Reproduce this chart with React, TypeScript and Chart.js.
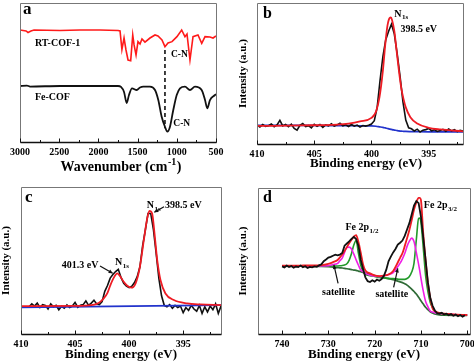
import React, { useEffect, useRef } from 'react';
import { Chart, registerables } from 'chart.js';

Chart.register(...registerables);

const SERIF = "'Liberation Serif', 'Times New Roman', Times, serif";

// ---------------- Panel a : FTIR ----------------
const aTickLabels = [3000, 2500, 2000, 1500, 1000, 500];
const aMinorTicks = [2750, 2250, 1750, 1250, 750];
const aRtCofWavenumber = [3000, 2923, 2898, 2860, 2821, 2490, 2235, 1980, 1750, 1724, 1700, 1673, 1648, 1622, 1588, 1562, 1545, 1520, 1495, 1469, 1444, 1406, 1342, 1278, 1240, 1189, 1151, 1112, 1061, 998, 938, 896, 870, 832, 793, 730, 682, 640, 577, 538, 500];
const aRtCofTransmittance = [80.6, 79.9, 78.8, 79.9, 80.6, 80.2, 80.6, 80.6, 80.2, 79.9, 66.5, 74.8, 66.2, 59.0, 58.5, 77.0, 69.8, 62.6, 72.2, 70.5, 74.1, 71.9, 74.8, 77.0, 76.3, 73.4, 68.6, 71.2, 72.2, 75.8, 80.6, 75.8, 77.7, 59.0, 75.8, 77.0, 71.0, 75.8, 75.5, 74.8, 76.3];
const aFeCofWavenumber = [3000, 2911, 2872, 2490, 1980, 1750, 1712, 1673, 1639, 1610, 1571, 1511, 1469, 1427, 1342, 1278, 1236, 1193, 1151, 1121, 1087, 1045, 1001, 959, 896, 832, 768, 683, 640, 611, 577, 513, 500];
const aFeCofTransmittance = [40.3, 40.6, 39.9, 40.3, 40.3, 40.3, 39.6, 36.0, 28.0, 33.8, 38.6, 37.4, 39.2, 39.8, 39.8, 37.4, 30.2, 18.2, 11.0, 7.4, 11.0, 23.0, 33.8, 38.6, 39.8, 37.4, 39.8, 37.4, 30.2, 24.2, 30.2, 33.8, 34.5];

// ---------------- Panel b : N1s (RT-COF-1) ----------------
const bTickLabels = [410, 405, 400, 395];
const bMinorTicks = [407.5, 402.5, 397.5, 392.5];
const bRawEnergy = [410, 409.75, 409.5, 409.25, 409, 408.75, 408.5, 408.25, 408, 407.75, 407.5, 407.25, 407, 406.75, 406.5, 406.25, 406, 405.75, 405.5, 405.25, 405, 404.75, 404.5, 404.25, 404, 403.75, 403.5, 403.25, 403, 402.75, 402.5, 402.25, 402, 401.75, 401.5, 401.25, 401, 400.75, 400.5, 400.25, 400, 399.75, 399.5, 399.25, 399, 398.75, 398.5, 398.25, 398, 397.75, 397.5, 397.25, 397, 396.75, 396.5, 396.25, 396, 395.75, 395.5, 395.25, 395, 394.75, 394.5, 394.25, 394, 393.75, 393.5, 393.25, 393, 392.75, 392.5, 392.25, 392];
const bRawIntensity = [13.5, 12.0, 13.8, 12.5, 13.0, 14.2, 12.3, 13.5, 16.8, 12.8, 13.9, 12.2, 14.0, 11.0, 9.8, 13.2, 14.5, 12.4, 13.0, 11.5, 14.0, 12.6, 13.8, 11.8, 13.5, 12.9, 14.3, 12.7, 13.6, 14.8, 12.9, 13.6, 12.4, 13.8, 12.6, 13.4, 12.0, 13.1, 12.7, 13.3, 14.2, 16.5, 26.0, 45.0, 62.0, 74.0, 80.0, 85.0, 78.0, 64.0, 48.0, 30.0, 17.0, 11.5, 10.8, 9.2, 10.5, 8.5, 9.8, 10.2, 11.0, 9.4, 10.1, 8.9, 9.6, 10.4, 9.1, 10.6, 9.3, 10.2, 8.8, 9.7, 9.2];
const bFitEnergy = [410, 406, 403, 402, 401, 400, 399.6, 399.3, 399.0, 398.8, 398.6, 398.4, 398.3, 398.2, 398.0, 397.8, 397.6, 397.4, 397.2, 397.0, 396.6, 396.0, 395.0, 394.0, 392.0];
const bFitIntensity = [12.8, 13.2, 13.8, 14.5, 16.0, 18.5, 23.0, 33.0, 52.0, 70.0, 84.0, 89.5, 89.8, 88.0, 80.0, 66.0, 52.0, 40.0, 32.0, 26.0, 19.0, 14.5, 11.5, 10.3, 9.0];
const bBackground = [13.2, 13.2, 13.1, 13.0, 12.9, 12.8, 12.6, 12.2, 11.8, 11.4, 11.0, 10.6, 10.4, 10.2, 9.9, 9.6, 9.3, 9.1, 9.0, 8.9, 8.8, 8.7, 8.6, 8.6, 8.6];

// ---------------- Panel c : N1s (Fe-COF) ----------------
const cTickLabels = [410, 405, 400, 395];
const cMinorTicks = [407.5, 402.5, 397.5, 392.5];
const cRawEnergy = [409.25, 409, 408.75, 408.5, 408.25, 408, 407.75, 407.5, 407.25, 407, 406.75, 406.5, 406.25, 406, 405.75, 405.5, 405.25, 405, 404.75, 404.5, 404.25, 404, 403.75, 403.5, 403.25, 403, 402.75, 402.5, 402.25, 402, 401.75, 401.5, 401.25, 401, 400.75, 400.5, 400.25, 400, 399.75, 399.5, 399.25, 399, 398.75, 398.5, 398.25, 398, 397.75, 397.5, 397.25, 397, 396.75, 396.5, 396.25, 396, 395.75, 395.5, 395.25, 395, 394.75, 394.5, 394.25, 394, 393.75, 393.5, 393.25, 393, 392.75, 392.5, 392.25, 392, 391.75, 391.5];
const cRawIntensity = [18.5, 20.5, 19.0, 21.0, 18.0, 20.0, 19.5, 17.0, 20.5, 18.5, 19.5, 16.5, 18.8, 17.5, 19.8, 18.0, 19.0, 21.5, 18.2, 19.5, 20.0, 22.5, 19.5, 21.0, 23.0, 20.5, 20.0, 22.0, 29.0, 33.0, 38.0, 40.5, 42.5, 44.0, 38.5, 34.5, 32.5, 31.5, 32.5, 35.0, 39.0, 45.7, 60.0, 70.6, 82.0, 82.0, 71.0, 55.0, 38.0, 26.0, 19.5, 18.5, 20.0, 17.5, 19.5, 18.0, 19.0, 14.5, 18.0, 16.0, 19.5, 17.0, 15.5, 19.5, 14.0, 18.5, 15.0, 19.0, 16.5, 20.5, 14.0, 19.0];
const cFitEnergy = [410, 405, 403.5, 403, 402.65, 402.35, 402, 401.73, 401.4, 401.1, 400.8, 400.5, 400.2, 399.8, 399.4, 399, 398.64, 398.33, 398.12, 397.87, 397.65, 397.4, 397.1, 396.64, 395.86, 394.63, 393.4, 391.5];
const cFitIntensity = [19.0, 19.1, 19.6, 20.5, 22.0, 24.2, 28.0, 33.3, 38.5, 41.2, 38.9, 35.5, 33.0, 31.5, 34.5, 45.7, 63.8, 78.5, 83.7, 81.9, 68.3, 50.2, 36.7, 27.6, 23.1, 20.8, 20.1, 19.7];
const cBaseEnergy = [410, 391.5];
const cBaseIntensity = [18.1, 19.7];

// ---------------- Panel d : Fe 2p ----------------
const dTickLabels = [740, 730, 720, 710, 700];
const dMinorTicks = [735, 725, 715, 705];
const dRawEnergy = [740, 739.5, 739, 738.5, 738, 737.5, 737, 736.5, 736, 735.5, 735, 734.5, 734, 733.5, 733, 732.5, 732, 731.5, 731, 730.5, 730, 729.5, 729, 728.5, 728, 727.5, 727, 726.5, 726, 725.5, 725, 724.5, 724, 723.5, 723, 722.5, 722, 721.5, 721, 720.5, 720, 719.5, 719, 718.5, 718, 717.5, 717, 716.5, 716, 715.5, 715, 714.5, 714, 713.5, 713, 712.5, 712, 711.5, 711, 710.5, 710, 709.5, 709, 708.5, 708, 707.5, 707, 706.5, 706, 705.5, 705, 704.5, 704, 703.5, 703, 702.5, 702, 701.5, 701, 700.5];
const dRawIntensity = [46.3, 45.6, 46.8, 45.9, 46.5, 45.4, 46.2, 45.8, 46.9, 45.7, 46.4, 45.2, 46.0, 45.6, 46.3, 46.0, 47.0, 47.8, 49.9, 51.0, 52.3, 52.8, 53.6, 54.3, 53.9, 54.4, 55.5, 60.5, 62.0, 63.4, 65.2, 66.5, 65.0, 60.5, 50.7, 44.5, 38.8, 36.2, 35.6, 36.8, 35.9, 37.3, 36.5, 37.6, 39.8, 43.9, 49.8, 53.0, 55.9, 58.2, 61.2, 62.5, 64.0, 67.2, 71.6, 75.9, 81.8, 88.0, 91.0, 89.6, 80.4, 66.0, 51.0, 35.5, 25.0, 19.5, 16.1, 14.3, 13.9, 14.5, 13.4, 13.9, 12.8, 13.6, 12.5, 13.3, 12.2, 13.0, 11.9, 12.8];
const dFitEnergy = [740, 736, 732, 730, 729, 728, 727.5, 727, 726.5, 726, 725.5, 725, 724.5, 724, 723.5, 723, 722.5, 722, 721, 720, 719, 718, 717, 716, 715, 714.5, 714, 713.5, 713, 712.5, 712, 711.5, 711, 710.5, 710.25, 710, 709.5, 709, 708.5, 708, 707.5, 707, 706, 705, 703, 700];
const dEnvelope = [46.8, 46.9, 47.0, 48.0, 49.2, 50.7, 52.5, 54.5, 56.9, 59.5, 62.1, 64.5, 66.7, 67.7, 63.0, 55.7, 47.6, 43.5, 41.5, 40.1, 39.7, 40.0, 40.8, 43.2, 49.0, 52.2, 55.3, 60.2, 65.5, 71.2, 77.8, 85.0, 90.1, 93.3, 93.3, 91.8, 69.0, 50.7, 35.0, 24.9, 17.6, 15.8, 14.4, 13.9, 13.4, 13.0];
const dSatellitePeaks = [46.6, 46.6, 46.6, 46.8, 47.6, 48.4, 50.2, 52.0, 55.9, 59.3, 59.5, 58.2, 54.7, 50.8, 47.1, 43.8, 42.7, 41.5, 40.2, 39.7, 39.3, 39.9, 40.7, 42.0, 46.2, 48.5, 51.5, 55.1, 60.0, 63.6, 65.7, 63.3, 55.9, 47.7, 43.2, 38.3, 29.5, 22.4, 18.7, 15.8, 15.0, 14.6, 14.1, 13.8, 13.4, 13.0];
const dMainPeaks = [46.6, 46.6, 46.6, 46.6, 46.6, 46.6, 46.7, 46.9, 47.3, 48.1, 50.6, 55.2, 60.9, 64.0, 55.2, 47.0, 42.9, 40.8, 40.0, 39.4, 38.7, 38.4, 38.1, 37.9, 37.6, 37.4, 37.4, 37.4, 38.0, 39.4, 42.4, 48.4, 64.4, 79.2, 79.4, 76.5, 59.3, 40.3, 29.2, 21.8, 18.2, 15.2, 13.8, 13.4, 13.2, 13.0];
const dBackground = [46.6, 46.5, 46.3, 46.1, 45.8, 45.5, 45.3, 45.2, 44.9, 44.7, 44.4, 44.1, 43.8, 43.6, 43.1, 42.7, 42.2, 41.7, 40.8, 40.1, 39.3, 38.6, 37.9, 37.2, 36.2, 35.7, 35.2, 34.4, 33.5, 32.2, 30.8, 29.1, 27.4, 25.1, 24.0, 22.8, 20.5, 18.3, 16.7, 15.2, 14.4, 13.7, 13.1, 12.9, 12.8, 12.8];

// ---------------- helpers ----------------
type TextAnn = { t: 'text'; x: number; y: number; s: string; sub?: string; sup?: string; tail?: string; size?: number; align?: 'left' | 'center'; px?: boolean };
type LineAnn = { t: 'arrow' | 'dash'; x1: number; y1: number; x2: number; y2: number };
type Ann = TextAnn | LineAnn;

interface PanelSpec {
  width: number;
  height: number;
  area: { left: number; top: number; right: number; bottom: number };
  xMin: number; xMax: number; yMin: number; yMax: number;
  ticks: number[]; minor: number[];
  xTitle?: string; xTitlePad?: number; xTitleLH?: number;
  yTitle?: string;
  datasets: any[];
  ann: Ann[];
}

const pts = (xs: number[], ys: number[]) => xs.map((x, i) => ({ x, y: ys[i] }));

function series(xs: number[], ys: number[], color: string, width: number, smooth: boolean) {
  return {
    data: pts(xs, ys),
    borderColor: color,
    backgroundColor: color,
    borderWidth: width,
    pointRadius: 0,
    fill: false,
    tension: smooth ? 0.4 : 0,
    cubicInterpolationMode: smooth ? 'monotone' : 'default',
  };
}

function drawRich(ctx: CanvasRenderingContext2D, x: number, y: number, a: TextAnn) {
  const size = a.size ?? 10;
  const big = `bold ${size}px ${SERIF}`;
  const small = `bold ${Math.round(size * 0.68)}px ${SERIF}`;
  ctx.font = big;
  const w1 = ctx.measureText(a.s).width;
  const script = a.sub ?? a.sup;
  let w2 = 0;
  if (script) { ctx.font = small; w2 = ctx.measureText(script).width + 1; }
  let w3 = 0;
  if (a.tail) { ctx.font = big; w3 = ctx.measureText(a.tail).width; }
  const total = w1 + w2 + w3;
  const x0 = a.align === 'center' ? x - total / 2 : x;
  ctx.fillStyle = '#000';
  ctx.textAlign = 'left';
  ctx.textBaseline = 'alphabetic';
  ctx.font = big;
  ctx.fillText(a.s, x0, y);
  if (script) {
    ctx.font = small;
    ctx.fillText(script, x0 + w1 + 0.5, a.sub ? y + size * 0.28 : y - size * 0.42);
  }
  if (a.tail) { ctx.font = big; ctx.fillText(a.tail, x0 + w1 + w2, y); }
}

function decor(spec: PanelSpec) {
  return {
    id: 'decor',
    afterDraw(chart: any) {
      const { ctx, chartArea: a, scales } = chart;
      const xs = scales.x, ys = scales.y;
      ctx.save();
      // frame
      ctx.strokeStyle = '#777';
      ctx.lineWidth = 1;
      const L = Math.round(a.left) + 0.5, T = Math.round(a.top) + 0.5;
      const R = Math.round(a.right) + 0.5, B = Math.round(a.bottom) + 0.5;
      ctx.beginPath();
      ctx.moveTo(L, B); ctx.lineTo(L, T); ctx.lineTo(R, T); ctx.lineTo(R, B);
      ctx.stroke();
      ctx.strokeStyle = '#111';
      ctx.lineWidth = 1.3;
      ctx.beginPath(); ctx.moveTo(L, B); ctx.lineTo(R, B); ctx.stroke();
      // inward tick marks
      const tick = (v: number, len: number) => {
        const p = Math.round(xs.getPixelForValue(v)) + 0.5;
        ctx.beginPath(); ctx.moveTo(p, B); ctx.lineTo(p, B - len); ctx.stroke();
      };
      ctx.lineWidth = 1;
      spec.ticks.forEach((v) => tick(v, 4));
      spec.minor.forEach((v) => tick(v, 2.5));
      // annotations
      spec.ann.forEach((n) => {
        if (n.t === 'text') {
          const px = n.px ? n.x : xs.getPixelForValue(n.x);
          const py = n.px ? n.y : ys.getPixelForValue(n.y);
          drawRich(ctx, px, py, n);
        } else {
          const x1 = xs.getPixelForValue(n.x1), y1 = ys.getPixelForValue(n.y1);
          const x2 = xs.getPixelForValue(n.x2), y2 = ys.getPixelForValue(n.y2);
          ctx.strokeStyle = '#111';
          ctx.fillStyle = '#111';
          if (n.t === 'dash') {
            ctx.lineWidth = 1.6;
            ctx.setLineDash([4, 3]);
            ctx.beginPath(); ctx.moveTo(x1, y1); ctx.lineTo(x2, y2); ctx.stroke();
            ctx.setLineDash([]);
          } else {
            ctx.lineWidth = 1.2;
            ctx.beginPath(); ctx.moveTo(x1, y1); ctx.lineTo(x2, y2); ctx.stroke();
            const ang = Math.atan2(y2 - y1, x2 - x1);
            const h = 4.5;
            ctx.beginPath();
            ctx.moveTo(x2, y2);
            ctx.lineTo(x2 - h * Math.cos(ang - 0.45), y2 - h * Math.sin(ang - 0.45));
            ctx.lineTo(x2 - h * Math.cos(ang + 0.45), y2 - h * Math.sin(ang + 0.45));
            ctx.closePath();
            ctx.fill();
          }
        }
      });
      ctx.restore();
    },
  };
}

function buildConfig(spec: PanelSpec): any {
  const { area, width, height } = spec;
  const tickFont = { family: SERIF, size: 10, weight: 'bold' };
  return {
    type: 'line',
    data: { datasets: spec.datasets },
    options: {
      responsive: false,
      animation: false,
      devicePixelRatio: 1,
      events: [],
      layout: { padding: { left: 0, top: area.top, right: width - area.right, bottom: 0 } },
      plugins: { legend: { display: false }, tooltip: { enabled: false }, title: { display: false } },
      scales: {
        x: {
          type: 'linear',
          reverse: true,
          min: spec.xMin,
          max: spec.xMax,
          afterBuildTicks: (s: any) => { s.ticks = spec.ticks.map((v) => ({ value: v })); },
          afterFit: (s: any) => { s.height = height - area.bottom; s.paddingLeft = 0; s.paddingRight = 0; },
          grid: { display: false, drawTicks: false },
          border: { display: false },
          ticks: { color: '#000', font: tickFont, padding: 4, autoSkip: false, maxRotation: 0, minRotation: 0, callback: (v: any) => String(v) },
          title: spec.xTitle
            ? { display: true, text: spec.xTitle, color: '#000', font: { family: SERIF, size: 13, weight: 'bold', lineHeight: spec.xTitleLH ?? 1.2 }, padding: { top: 0, bottom: spec.xTitlePad ?? 0 } }
            : { display: false },
        },
        y: {
          type: 'linear',
          min: spec.yMin,
          max: spec.yMax,
          afterFit: (s: any) => { s.width = area.left; s.paddingTop = 0; s.paddingBottom = 0; },
          grid: { display: false, drawTicks: false },
          border: { display: false },
          ticks: { display: false },
          title: spec.yTitle
            ? { display: true, text: spec.yTitle, color: '#000', font: { family: SERIF, size: 11, weight: 'bold', lineHeight: 1.2 }, padding: { top: 0, bottom: 0 } }
            : { display: false },
        },
      },
    },
    plugins: [decor(spec)],
  };
}

const RED = '#ee1c24';
const BLACK = '#111111';
const BLUE = '#2233cc';
const MAGENTA = '#f01ee6';
const GREEN = '#229a2a';
const DKGREEN = '#2f6b36';

const panelA: PanelSpec = {
  width: 237, height: 180,
  area: { left: 20, top: 3, right: 216, bottom: 142 },
  xMin: 500, xMax: 3000, yMin: 0, yMax: 100,
  ticks: aTickLabels, minor: aMinorTicks,
  datasets: [
    series(aRtCofWavenumber, aRtCofTransmittance, '#ff1a1a', 1.6, false),
    series(aFeCofWavenumber, aFeCofTransmittance, BLACK, 1.8, true),
  ],
  ann: [
    { t: 'text', x: 23, y: 13.5, s: 'a', size: 17, px: true },
    { t: 'text', x: 2809, y: 69.1, s: 'RT-COF-1' },
    { t: 'text', x: 2809, y: 30.2, s: 'Fe-COF' },
    { t: 'text', x: 1074, y: 61.4, s: 'C-N', size: 9.5 },
    { t: 'text', x: 1045, y: 11.7, s: 'C-N', size: 9.5 },
    { t: 'dash', x1: 1151, y1: 66.2, x2: 1151, y2: 9.9 },
    { t: 'text', x: 121, y: 171, s: 'Wavenumber (cm', sup: '-1', tail: ')', size: 14, align: 'center', px: true },
  ],
};

const panelB: PanelSpec = {
  width: 237, height: 180,
  area: { left: 20, top: 3, right: 226, bottom: 144 },
  xMin: 392, xMax: 410, yMin: 0, yMax: 100,
  ticks: bTickLabels, minor: bMinorTicks,
  yTitle: 'Intensity (a.u.)',
  datasets: [
    series(bFitEnergy, bFitIntensity, RED, 1.8, true),
    series(bRawEnergy, bRawIntensity, BLACK, 1.6, false),
    series(bFitEnergy, bBackground, BLUE, 1.7, true),
  ],
  ann: [
    { t: 'text', x: 26, y: 18.3, s: 'b', size: 16, px: true },
    { t: 'text', x: 398.0, y: 90.3, s: 'N', sub: '1s' },
    { t: 'text', x: 397.47, y: 79.6, s: '398.5 eV' },
    { t: 'text', x: 129, y: 167, s: 'Binding energy (eV)', size: 13, align: 'center', px: true },
  ],
};

const panelC: PanelSpec = {
  width: 237, height: 181,
  area: { left: 21, top: 7, right: 221, bottom: 154 },
  xMin: 391.5, xMax: 410, yMin: 0, yMax: 100,
  ticks: cTickLabels, minor: cMinorTicks,
  xTitle: 'Binding energy (eV)', xTitlePad: 0, xTitleLH: 1,
  yTitle: 'Intensity (a.u.)',
  datasets: [
    series(cFitEnergy, cFitIntensity, RED, 1.8, true),
    series(cBaseEnergy, cBaseIntensity, BLUE, 1.7, false),
    series(cRawEnergy, cRawIntensity, BLACK, 1.6, false),
  ],
  ann: [
    { t: 'text', x: 25, y: 21.7, s: 'c', size: 17, px: true },
    { t: 'text', x: 406.23, y: 44.7, s: '401.3 eV' },
    { t: 'arrow', x1: 402.69, y1: 46.3, x2: 401.52, y2: 41.3 },
    { t: 'text', x: 401.3, y: 46.9, s: 'N', sub: '1s' },
    { t: 'text', x: 398.37, y: 85.5, s: 'N', sub: '1s' },
    { t: 'arrow', x1: 396.77, y1: 86.6, x2: 397.67, y2: 82.8 },
    { t: 'text', x: 396.68, y: 85.7, s: '398.5 eV' },
  ],
};

const panelD: PanelSpec = {
  width: 237, height: 181,
  area: { left: 21, top: 8, right: 233, bottom: 154 },
  xMin: 699.4, xMax: 745.2, yMin: 0, yMax: 100,
  ticks: dTickLabels, minor: dMinorTicks,
  xTitle: 'Binding energy (eV)', xTitlePad: 0, xTitleLH: 1,
  yTitle: 'Intensity (a.u.)',
  datasets: [
    series(dRawEnergy, dRawIntensity, BLACK, 1.8, false),
    series(dFitEnergy, dEnvelope, RED, 1.8, true),
    series(dFitEnergy, dSatellitePeaks, MAGENTA, 1.6, true),
    series(dFitEnergy, dMainPeaks, GREEN, 1.6, true),
    series(dFitEnergy, dBackground, DKGREEN, 1.7, true),
  ],
  ann: [
    { t: 'text', x: 26, y: 21.7, s: 'd', size: 16, px: true },
    { t: 'text', x: 709.37, y: 86.1, s: 'Fe 2p', sub: '3/2' },
    { t: 'text', x: 726.32, y: 71.2, s: 'Fe 2p', sub: '1/2' },
    { t: 'text', x: 731.36, y: 26.7, s: 'satellite' },
    { t: 'text', x: 719.84, y: 25.5, s: 'satellite' },
    { t: 'arrow', x1: 727.9, y1: 34.7, x2: 728.8, y2: 47.3 },
    { t: 'arrow', x1: 715.9, y1: 32.0, x2: 715.0, y2: 45.0 },
  ],
};

function Panel({ spec, left, top }: { spec: PanelSpec; left: number; top: number }) {
  const ref = useRef<HTMLCanvasElement | null>(null);
  useEffect(() => {
    if (!ref.current) return;
    const chart = new Chart(ref.current, buildConfig(spec));
    return () => chart.destroy();
  }, [spec]);
  return (
    <canvas
      ref={ref}
      width={spec.width}
      height={spec.height}
      style={{ position: 'absolute', left, top, width: spec.width, height: spec.height }}
    />
  );
}

export default function App() {
  return (
    <div style={{ position: 'fixed', left: 0, top: 0, width: 474, height: 361, background: '#fff', overflow: 'hidden' }}>
      <Panel spec={panelA} left={0} top={0} />
      <Panel spec={panelB} left={237} top={0} />
      <Panel spec={panelC} left={0} top={180} />
      <Panel spec={panelD} left={237} top={180} />
    </div>
  );
}
